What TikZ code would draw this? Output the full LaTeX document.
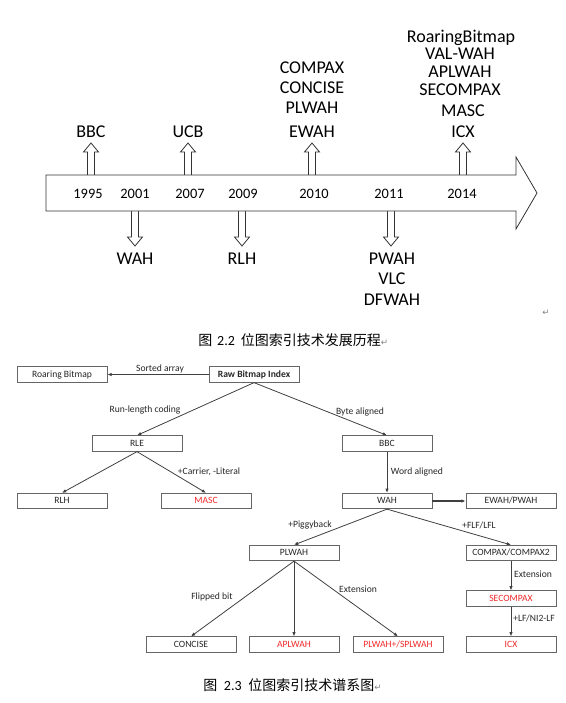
\documentclass[tikz,border=0pt]{standalone}
\usepackage{fontspec}
\setmainfont{Carlito}
\newfontfamily\cjk{Noto Sans CJK SC}
\newfontfamily\dejavu{DejaVu Sans}
\usetikzlibrary{arrows.meta}
\definecolor{hotred}{RGB}{240,40,40}
\tikzset{
  tlabel/.style={font=\fontsize{13.5}{16}\selectfont,anchor=base,inner sep=0pt},
  year/.style={font=\fontsize{10.8}{13}\selectfont,anchor=base,inner sep=0pt},
  tbox/.style={draw=black!60,line width=0.6pt,minimum width=67.5pt,minimum height=11.6pt,inner sep=0pt,
    text height=5.2pt,text depth=1.4pt,font=\fontsize{7.2}{8.6}\selectfont,text=black!85},
  redbox/.style={tbox,text=hotred},
  elabel/.style={font=\fontsize{7.2}{8.6}\selectfont,anchor=base,inner sep=0pt,text=black!85},
  edge/.style={draw=black!75,line width=0.6pt,-{Latex[length=3.2pt,width=2.6pt]}},
  hollow/.style={draw=black!80,line width=0.6pt,fill=white},
  retmark/.style={font=\dejavu\fontsize{6.5}{8}\selectfont,text=black!50,inner sep=0pt}
}
\begin{document}
\begin{tikzpicture}[x=0.75pt,y=-0.75pt]
  \useasboundingbox (0,0) rectangle (565,703);
  \foreach \x in {91,188,312,463}
    \draw[hollow] (\x-3.5,175) -- (\x-3.5,152) -- (\x-7.5,152) -- (\x,143) -- (\x+7.5,152) -- (\x+3.5,152) -- (\x+3.5,175);
  \foreach \x in {135,242,391}
    \draw[hollow] (\x-3.5,211) -- (\x-3.5,237) -- (\x-7.5,237) -- (\x,246) -- (\x+7.5,237) -- (\x+3.5,237) -- (\x+3.5,211);
  \draw[hollow] (46,175) -- (516,175) -- (516,157) -- (537,193) -- (516,229) -- (516,211) -- (46,211) -- cycle;
  \foreach \yr/\x in {1995/88,2001/135,2007/190,2009/243,2010/314,2011/389,2014/462}
    \node[year] (y\yr) at (\x,198) {\yr};

  \node[tlabel] (tBBC) at (91,137) {BBC};
  \node[tlabel] (tUCB) at (188,137) {UCB};
  \node[tlabel] (tEWAH) at (312,137) {EWAH};
  \node[tlabel] (tPLWAH) at (312,113) {PLWAH};
  \node[tlabel] (tCONCISE) at (312,93) {CONCISE};
  \node[tlabel] (tCOMPAX) at (312,73) {COMPAX};
  \node[tlabel] (tICX) at (463,137) {ICX};
  \node[tlabel] (tMASC) at (463,116) {MASC};
  \node[tlabel] (tSECOMPAX) at (460,95) {SECOMPAX};
  \node[tlabel] (tAPLWAH) at (460,77) {APLWAH};
  \node[tlabel] (tVALWAH) at (460,59) {VAL-WAH};
  \node[tlabel] (tRoaring) at (461,42) {RoaringBitmap};
  \node[tlabel] (tWAH) at (135,264) {WAH};
  \node[tlabel] (tRLH) at (242,264) {RLH};
  \node[tlabel] (tPWAH) at (392,264) {PWAH};
  \node[tlabel] (tVLC) at (392,284) {VLC};
  \node[tlabel] (tDFWAH) at (392,305) {DFWAH};
  \node[retmark] (ret1) at (546,313) {↵};
  \node[anchor=west,inner sep=0pt,font=\fontsize{10.5}{12}\selectfont] (cap1) at (198,340)
    {{\cjk 图}\hspace{3.7pt}2.2\hspace{4.5pt}{\cjk 位图索引技术发展历程}{\dejavu\color{black!50}\fontsize{6.5}{8}\selectfont ↵}};

  \node[tbox] (roaring) at (62,374.5) {Roaring Bitmap};
  \node[tbox] (raw) at (254,374.5) {\textbf{Raw Bitmap Index}};
  \node[tbox] (rle) at (137,443.5) {RLE};
  \node[tbox] (bbc) at (387,443.5) {BBC};
  \node[tbox] (rlh) at (62,501) {RLH};
  \node[redbox] (masc) at (206,501) {MASC};
  \node[tbox] (wah) at (387,501) {WAH};
  \node[tbox] (ewah) at (511,501) {EWAH/PWAH};
  \node[tbox] (plwah) at (294,553) {PLWAH};
  \node[tbox] (compax) at (511,553) {COMPAX/COMPAX2};
  \node[redbox] (secompax) at (511,598.5) {SECOMPAX};
  \node[tbox] (concise) at (191,644.5) {CONCISE};
  \node[redbox] (aplwah) at (294,644.5) {APLWAH};
  \node[redbox] (plwahp) at (398,644.5) {PLWAH+/SPLWAH};
  \node[redbox] (icx) at (511,644.5) {ICX};

  \draw[edge] (raw.west) -- (roaring.east);
  \draw[edge] (raw.south) -- (rle.north);
  \draw[edge] (raw.south) -- (bbc.north);
  \draw[edge] (rle.south) -- (rlh.north);
  \draw[edge] (rle.south) -- (masc.north);
  \draw[edge] (bbc.south) -- (wah.north);
  \draw[edge,line width=0.9pt] (wah.east) -- (ewah.west);
  \draw[edge] (wah.south) -- (plwah.north);
  \draw[edge] (wah.south) -- (compax.north);
  \draw[edge] (compax.south) -- (secompax.north);
  \draw[edge] (secompax.south) -- (icx.north);
  \draw[edge] (plwah.south) -- (concise.north);
  \draw[edge] (plwah.south) -- (aplwah.north);
  \draw[edge] (plwah.south) -- (plwahp.north);

  \node[elabel] (lSorted) at (160,371) {Sorted array};
  \node[elabel] (lRun) at (145,412) {Run-length coding};
  \node[elabel] (lByte) at (360,414) {Byte aligned};
  \node[elabel] (lCarrier) at (209,474) {+Carrier, -Literal};
  \node[elabel] (lWord) at (417,474) {Word aligned};
  \node[elabel] (lPiggy) at (310,527) {+Piggyback};
  \node[elabel] (lFLF) at (479,528) {+FLF/LFL};
  \node[elabel] (lExtC) at (533,577) {Extension};
  \node[elabel] (lLF) at (534,621) {+LF/NI2-LF};
  \node[elabel] (lFlip) at (212,599) {Flipped bit};
  \node[elabel] (lExtP) at (358,592) {Extension};
  \node[anchor=west,inner sep=0pt,font=\fontsize{10.5}{12}\selectfont] (cap2) at (203,685)
    {{\cjk 图}\hspace{5pt}2.3\hspace{5pt}{\cjk 位图索引技术谱系图}{\dejavu\color{black!50}\fontsize{6.5}{8}\selectfont ↵}};
\end{tikzpicture}
\end{document}
